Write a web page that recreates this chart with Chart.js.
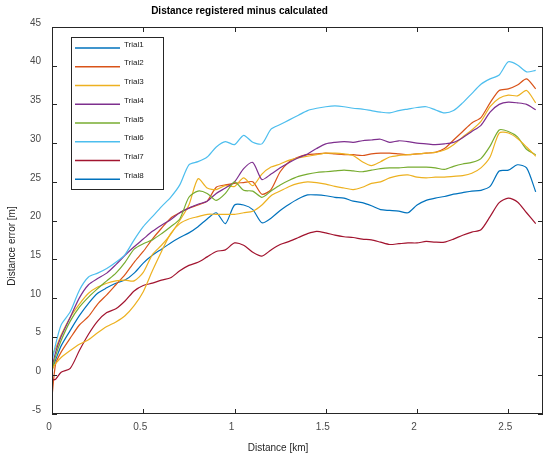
<!DOCTYPE html>
<html>
<head>
<meta charset="utf-8">
<title>Distance registered minus calculated</title>
<script src="https://cdn.jsdelivr.net/npm/chart.js@4.4.1/dist/chart.umd.min.js"></script>
<style>
  html, body { margin: 0; padding: 0; background: #fff; }
  canvas { display: block; }
</style>
</head>
<body>
<canvas id="chart" width="550" height="457"></canvas>
<script>
// distance along the track [km], shared by all trials
const dist = [
  0, 0.02, 0.05, 0.1, 0.15, 0.2, 0.25, 0.3, 0.35, 0.4, 0.45,
  0.5, 0.55, 0.6, 0.65, 0.7, 0.75, 0.8, 0.85, 0.9, 0.95, 1.0,
  1.05, 1.1, 1.15, 1.2, 1.25, 1.3, 1.35, 1.4, 1.45, 1.5, 1.55,
  1.6, 1.65, 1.7, 1.75, 1.8, 1.85, 1.9, 1.95, 2.0, 2.05, 2.1,
  2.15, 2.2, 2.25, 2.3, 2.35, 2.4, 2.45, 2.5, 2.55, 2.6, 2.65,
];

// distance error [m]
const trial1 = [
  0.8, 2, 3.8, 5.8, 7.7, 9.3, 10.6, 11.3, 11.9, 12.3, 13.2,
  14.5, 15.5, 16.3, 17.1, 17.8, 18.4, 19.2, 20.2, 21, 19.6, 22,
  22, 21.4, 19.7, 20.3, 21.3, 22.1, 22.8, 23.3, 23.3, 23.2, 23,
  22.9, 22.5, 22.3, 21.9, 21.4, 21.3, 21.2, 21, 22, 22.6, 22.9,
  23.1, 23.4, 23.6, 23.8, 23.9, 24.4, 26.4, 26.5, 27.2, 26.8, 23.7,
];
const trial2 = [
  -2.8, 1.5, 3, 4.8, 6.5, 7.6, 9.2, 10.4, 11.7, 13, 14.6,
  16, 17.6, 19, 20.3, 21, 21.6, 22, 22.5, 24.3, 24.6, 24.8,
  24.9, 25, 23.4, 24, 26.3, 27.6, 28.2, 28.5, 28.6, 28.7, 28.6,
  28.5, 28.5, 28.4, 28.6, 28.7, 28.7, 28.6, 28.5, 28.6, 28.7, 28.8,
  29.3, 30.4, 31.5, 32.6, 33.3, 35.2, 36.8, 37, 37.5, 38.3, 37,
];
const trial3 = [
  2.6, 3.5, 5.2, 7.5, 9.2, 10.6, 11.4, 11.9, 12.2, 12.3, 12.2,
  13.3, 15.6, 16.8, 18.2, 20, 22, 25.4, 24.2, 24, 24.5, 24.4,
  25.5, 24.5, 26, 26.9, 27.3, 27.8, 28.1, 28.3, 28.5, 28.7, 28.7,
  28.6, 28.4, 27.6, 27.1, 27.6, 28.2, 28.4, 28.5, 28.6, 28.7, 28.8,
  29.1, 29.8, 30.8, 31.7, 32.8, 34.7, 35.8, 36.2, 36.1, 36.8, 35.2,
];
const trial4 = [
  1, 3, 5, 7.5, 10, 11.7, 12.5, 13.2, 14.3, 15.5, 16.6,
  17.6, 18.6, 19.4, 20.1, 21, 21.6, 22.1, 22.5, 23.5, 24.2, 25,
  26.7, 27.5, 25.3, 26, 26.8, 27.5, 28.1, 28.6, 29.3, 29.9, 30.1,
  30.2, 30.1, 30.3, 30.4, 30.5, 30.1, 30.3, 30.2, 30, 29.9, 29.8,
  29.9, 30.1, 30.7, 31.5, 32.3, 34, 35, 35.3, 35.2, 35, 34.3,
];
const trial5 = [
  0.5, 2.5, 4.5, 7, 8.8, 10.1, 11.2, 12.2, 13.2, 14.6, 16.3,
  17, 17.5, 18.3, 19.2, 20.2, 23, 23.8, 23.5, 22.6, 23.5, 25,
  23.9, 23.8, 23, 23.8, 24.6, 25.2, 25.7, 26, 26.2, 26.3, 26.4,
  26.5, 26.4, 26.3, 26.5, 26.7, 26.8, 26.8, 26.9, 26.9, 26.9, 26.8,
  26.6, 27, 27.3, 27.5, 28, 29.6, 31.7, 31.5, 30.8, 29.2, 28.5,
];
const trial6 = [
  1.8, 4, 6.5, 8.2, 11, 12.7, 13.2, 13.8, 14.6, 15.6, 17.5,
  19.2, 20.5, 21.8, 23, 24.6, 27.2, 27.6, 28.2, 29.5, 30.2, 29.8,
  31, 30.1, 29.9, 31.8, 32.4, 33, 33.6, 34.2, 34.5, 34.7, 34.8,
  34.7, 34.5, 34.4, 34.2, 34, 33.9, 34.2, 34.4, 34.6, 34.7, 34.3,
  33.9, 34.2, 35.2, 36.4, 37.6, 38.3, 38.8, 40.5, 40.1, 39.2, 39.4,
];
const trial7 = [
  -0.6, -0.5, 0.4, 0.9, 3.2, 5.3, 7, 8.1, 8.6, 9.6, 10.9,
  11.6, 11.9, 12.3, 12.6, 13.5, 14.2, 14.6, 15.3, 16, 16.2, 17.1,
  16.8, 15.9, 15.4, 16.2, 16.9, 17.3, 17.8, 18.3, 18.6, 18.4, 18.1,
  17.9, 17.8, 17.6, 17.5, 17.2, 16.9, 17, 17.1, 17.1, 17.3, 17.2,
  17.2, 17.6, 18.1, 18.5, 18.8, 20.5, 22.3, 22.9, 22.4, 21, 19.6,
];
const trial8 = [
  0.8, 1.5, 2.3, 3.2, 4, 4.6, 5.5, 6.3, 6.9, 7.7, 9,
  10.8, 13.5, 16, 18.3, 19.6, 20.2, 20.5, 20.8, 20.8, 20.8, 20.8,
  21, 21.2, 22, 23.2, 23.8, 24.4, 24.8, 25, 24.9, 24.7, 24.4,
  24.2, 24, 24.3, 24.8, 25, 25.5, 25.8, 25.9, 25.6, 25.5, 25.6,
  25.6, 25.7, 25.8, 26.1, 26.8, 28.2, 31.3, 31.3, 30.6, 29.5, 28.3,
];

const trialNames = ["Trial1", "Trial2", "Trial3", "Trial4", "Trial5", "Trial6", "Trial7", "Trial8"];
const trialValues = [trial1, trial2, trial3, trial4, trial5, trial6, trial7, trial8];
// colours of the plotted lines; the figure's legend shows Trial8 in blue
const lineColors = ["#0072BD", "#D95319", "#EDB120", "#7E2F8E", "#77AC30", "#4DBEEE", "#A2142F", "#EDB120"];
const legendColors = ["#0072BD", "#D95319", "#EDB120", "#7E2F8E", "#77AC30", "#4DBEEE", "#A2142F", "#0072BD"];

const xTicks = [0, 0.5, 1, 1.5, 2, 2.5];
const yTicks = [-5, 0, 5, 10, 15, 20, 25, 30, 35, 40, 45];

const titleText = "Distance registered minus calculated";
const xLabel = "Distance [km]";
const yLabel = "Distance error [m]";

const AXIS = "#262626";
const TICKTXT = "#4a4a4a";
const FONT = "'Liberation Sans', Arial, Helvetica, sans-serif";

Chart.defaults.animation = false;
Chart.defaults.font.family = FONT;

// MATLAB-like box with inward ticks, inner legend and the three texts
const matlabFrame = {
  id: "matlabFrame",
  afterDatasetsDraw(chart) {
    const { ctx, chartArea: a, scales } = chart;
    ctx.save();
    ctx.strokeStyle = AXIS;
    ctx.lineWidth = 1;
    ctx.strokeRect(a.left + 0.5, a.top + 0.5, a.right - a.left - 1, a.bottom - a.top - 1);
    ctx.beginPath();
    xTicks.forEach((v) => {
      const px = Math.round(scales.x.getPixelForValue(v)) + 0.5;
      ctx.moveTo(px, a.bottom); ctx.lineTo(px, a.bottom - 5);
      ctx.moveTo(px, a.top); ctx.lineTo(px, a.top + 5);
    });
    yTicks.forEach((v) => {
      const py = Math.round(scales.y.getPixelForValue(v)) + 0.5;
      ctx.moveTo(a.left, py); ctx.lineTo(a.left + 5, py);
      ctx.moveTo(a.right, py); ctx.lineTo(a.right - 5, py);
    });
    ctx.stroke();
    ctx.restore();
  },
  afterDraw(chart) {
    const { ctx } = chart;
    ctx.save();

    // legend
    ctx.fillStyle = "#fff";
    ctx.fillRect(71, 37, 93, 153);
    ctx.strokeStyle = AXIS;
    ctx.lineWidth = 1;
    ctx.strokeRect(71.5, 37.5, 92, 152);
    ctx.font = `8px ${FONT}`;
    ctx.textBaseline = "middle";
    ctx.textAlign = "left";
    trialNames.forEach((name, i) => {
      const yl = 48 + 18.75 * i;
      ctx.strokeStyle = legendColors[i];
      ctx.lineWidth = 1.5;
      ctx.beginPath();
      ctx.moveTo(75, yl);
      ctx.lineTo(120, yl);
      ctx.stroke();
      ctx.fillStyle = "#1a1a1a";
      ctx.fillText(name, 124, yl - 3.5);
    });

    // title
    ctx.fillStyle = "#000";
    ctx.font = `bold 10px ${FONT}`;
    ctx.textAlign = "center";
    ctx.textBaseline = "alphabetic";
    ctx.fillText(titleText, 239.5, 13.5);

    // axis labels
    ctx.fillStyle = "#262626";
    ctx.font = `10px ${FONT}`;
    ctx.fillText(xLabel, 278, 451);
    ctx.translate(14.5, 246);
    ctx.rotate(-Math.PI / 2);
    ctx.fillText(yLabel, 0, 0);
    ctx.restore();
  },
};

new Chart(document.getElementById("chart"), {
  type: "line",
  data: {
    labels: dist,
    datasets: trialNames.map((name, i) => ({
      label: name,
      data: dist.map((d, k) => ({ x: d, y: trialValues[i][k] })),
      borderColor: lineColors[i],
      borderWidth: 1.2,
      pointRadius: 0,
      tension: 0.25,
      fill: false,
      order: trialNames.length - i,
    })),
  },
  options: {
    responsive: false,
    layout: { padding: { top: 27, right: 7, left: 0, bottom: 0 } },
    plugins: {
      legend: { display: false },
      title: { display: false },
      tooltip: { enabled: false },
    },
    scales: {
      x: {
        type: "linear",
        min: 0,
        max: 2.69,
        grid: { display: false, drawTicks: false },
        border: { display: false },
        afterBuildTicks: (s) => { s.ticks = xTicks.map((v) => ({ value: v })); },
        afterFit: (s) => { s.height = 43; },
        ticks: {
          padding: 7,
          labelOffset: -3,
          maxRotation: 0,
          color: TICKTXT,
          font: { size: 10 },
          callback: (v) => String(v),
        },
      },
      y: {
        min: -5,
        max: 45,
        grid: { display: false, drawTicks: false },
        border: { display: false },
        afterBuildTicks: (s) => { s.ticks = yTicks.map((v) => ({ value: v })); },
        afterFit: (s) => { s.width = 52; },
        ticks: {
          padding: 11,
          labelOffset: -4,
          color: TICKTXT,
          font: { size: 10 },
          callback: (v) => String(v),
        },
      },
    },
  },
  plugins: [matlabFrame],
});
</script>
</body>
</html>
